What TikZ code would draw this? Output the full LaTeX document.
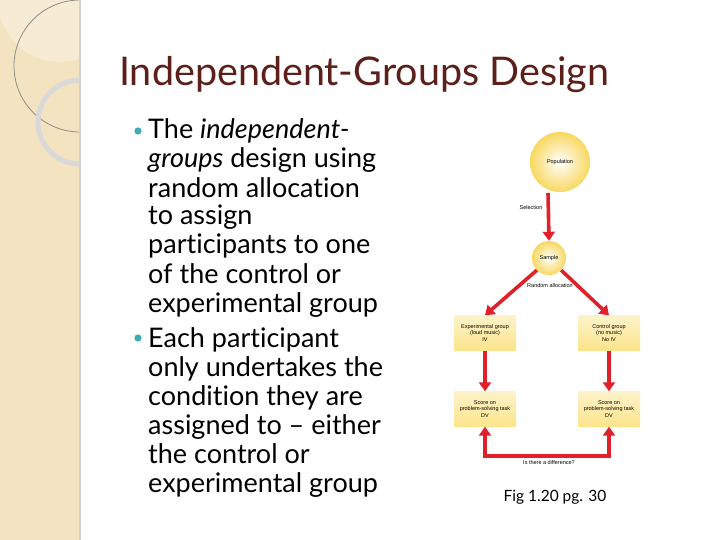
\documentclass[tikz,border=0pt]{standalone}
\usepackage{fontspec}
\setmainfont[Ligatures={NoCommon,NoRare,NoDiscretionary}]{Lato}
\newfontfamily\diag{Liberation Sans}
\usetikzlibrary{arrows.meta}
\definecolor{band}{HTML}{F3E3C0}
\definecolor{ttl}{HTML}{5C1F1A}
\definecolor{bul}{HTML}{3FA9B5}
\definecolor{arr}{HTML}{E0202A}
\definecolor{boxc}{HTML}{FBE48A}
\definecolor{ballc}{HTML}{F8D860}
\begin{document}
\begin{tikzpicture}[x=1pt,y=-1pt,
  body/.style={anchor=base west,font=\fontsize{27}{27}\selectfont,inner sep=0pt},
  dlab/.style={font=\diag\fontsize{5.5}{6.5}\selectfont,align=center,inner sep=1pt},
  gbox/.style={dlab,minimum width=62pt,minimum height=35pt,shade,top color=boxc!45!white,bottom color=boxc,draw=none},
  ballst/.style={circle,inner sep=0pt,dlab,inner color=white,outer color=ballc},
  rarrow/.style={draw=arr,line width=3.6pt,-{Triangle[length=9pt,width=12pt]}}]
\useasboundingbox (0,0) rectangle (720,540);
\fill[white] (0,0) rectangle (720,540);
\fill[band] (0,0) rectangle (79,540);
\fill[black!18] (79,0) rectangle (81,540);
\begin{scope}
\clip (0,0) rectangle (79,540);
\fill[white,opacity=0.3] (60,0) circle (62);
\draw[black!45,line width=0.8pt] (80,66) circle (66);
\draw[black!15,line width=5pt] (80,122) circle (42);
\end{scope}
\node[anchor=base west,text=ttl,font=\fontsize{39.5}{39.5}\selectfont,inner sep=0pt] (title) at (119,86) {Independent-Groups Design};
\fill[bul] (138,131) circle (3.6);
\fill[bul] (138,338) circle (3.6);
\node[body] (l1) at (148,139) {The \textit{independent-}};
\node[body] (l2) at (148,168) {\textit{groups} design using};
\node[body] (l3) at (148,197) {random allocation};
\node[body] (l4) at (148,225) {to assign};
\node[body] (l5) at (148,254) {participants to one};
\node[body] (l6) at (148,283) {of the control or};
\node[body] (l7) at (148,312) {experimental group};
\node[body] (m1) at (148,347) {Each participant};
\node[body] (m2) at (148,376) {only undertakes the};
\node[body] (m3) at (148,405) {condition they are};
\node[body] (m4) at (148,434) {assigned to -- either};
\node[body] (m5) at (148,463) {the control or};
\node[body] (m6) at (148,492) {experimental group};
\node[ballst,minimum size=60pt] (pop) at (560,162) {Population};
\node[ballst,minimum size=34pt] (samp) at (549,258) {Sample};
\node[gbox] (exp) at (485,333) {Experimental group\\(loud music)\\IV};
\node[gbox] (ctl) at (609,333) {Control group\\(no music)\\No IV};
\node[gbox] (se) at (485,409) {Score on\\problem-solving task\\DV};
\node[gbox] (sc) at (609,409) {Score on\\problem-solving task\\DV};
\coordinate (bl) at (485,456);
\coordinate (br) at (609,456);
\draw[rarrow] (548,193) -- (samp.north);
\node[dlab] (sel) at (531,208) {Selection};
\draw[rarrow] (samp.south west) -- (exp.north);
\draw[rarrow] (samp.south east) -- (ctl.north);
\node[dlab] (ra) at (550,286) {Random allocation};
\draw[rarrow] (exp.south) -- (se.north);
\draw[rarrow] (ctl.south) -- (sc.north);
\draw[draw=arr,line width=3.6pt,{Triangle[length=9pt,width=12pt]}-{Triangle[length=9pt,width=12pt]}] (se.south) -- (bl) -- (br) -- (sc.south);
\node[dlab] (diff) at (549,463) {Is there a difference?};
\node[anchor=center,font=\fontsize{15.5}{15.5}\selectfont] (fig) at (555,497) {Fig 1.20 pg. 30};
\end{tikzpicture}
\end{document}
